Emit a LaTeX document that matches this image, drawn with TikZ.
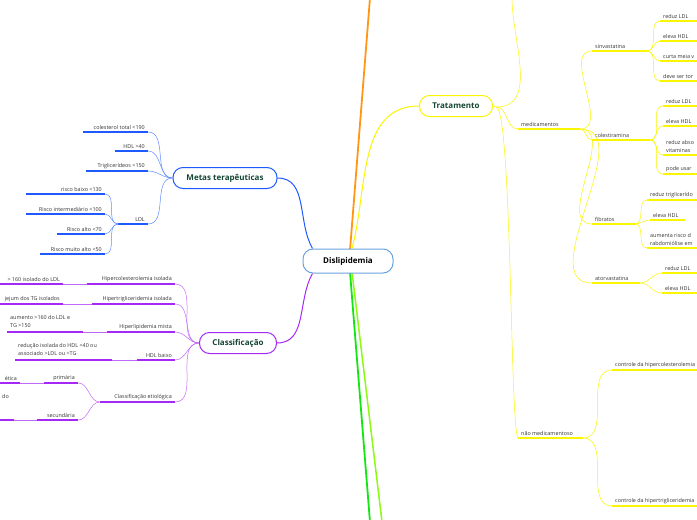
\documentclass[tikz,border=0pt]{standalone}
\usepackage{fontspec}
\setmainfont{Open Sans}
\definecolor{bl}{RGB}{30,90,255}
\definecolor{pu}{RGB}{165,40,245}
\definecolor{ye}{RGB}{250,245,0}
\definecolor{or}{RGB}{255,150,20}
\definecolor{gr}{RGB}{20,230,20}
\definecolor{lg}{RGB}{140,250,20}
\definecolor{dg}{RGB}{20,70,50}
\tikzset{txt/.style={font=\fontsize{5.4}{8.5}\selectfont,text=black!80,inner sep=1pt,align=left},
 main/.style={draw,rounded corners=10pt,line width=1pt,fill=white,font=\bfseries\fontsize{8}{9}\selectfont,text=dg,minimum height=21pt,inner xsep=8pt},
 ul/.style={line width=1.3pt},
 cn/.style={line width=0.5pt}}
\newcommand\RL[6]{\coordinate (#1-l) at (#2,#4); \coordinate (#1-r) at (#3,#4); \draw[ul,#5] (#1-l)--(#1-r); \node[txt,anchor=south west] (#1) at ([xshift=2pt,yshift=1.2pt]#1-l) {#6};}
\newcommand\LL[6]{\coordinate (#1-l) at (#2,#4); \coordinate (#1-r) at (#3,#4); \draw[ul,#5] (#1-l)--(#1-r); \node[txt,anchor=south east,align=right] (#1) at ([xshift=-2pt,yshift=1.2pt]#1-r) {#6};}
\begin{document}
\begin{tikzpicture}[x=1pt,y=-1pt]
\useasboundingbox (0,0) rectangle (697,520);
\clip (0,0) rectangle (697,520);
\node[main,draw=black!0,minimum width=90pt,minimum height=24pt] (root) at (348,261) {};
\coordinate (topo) at (370,-2);
\coordinate (g1) at (370,522);
\coordinate (g2) at (382,522);
\draw[or,line width=1.8pt] (350,250) -- (topo);
\draw[gr,line width=1.8pt] (350,272) -- (g1);
\draw[lg,line width=1.5pt] (352,272) -- (g2);
\node[main,draw=bl,minimum width=104pt] (metas) at (225,178) {Metas terapêuticas};
\node[main,draw=ye,minimum width=73pt] (trat) at (456,106) {Tratamento};
\node[main,draw=pu,minimum width=77pt] (clas) at (238,343) {Classificação};
\draw[bl,line width=1pt] (root.north west) ++(10,0) to[out=120,in=0] (metas.east);
\draw[ye,line width=1pt] (root.north) ++(4,0) to[out=75,in=180] (trat.west);
\draw[pu,line width=1pt] (root.south west) ++(10,0) to[out=240,in=0] (clas.east);
\node[main,draw=cyan!60!blue!60,text=black,minimum width=90pt,minimum height=24pt] at (348,261) {Dislipidemia};
% --- Metas
\LL{m1}{83}{148}{132}{bl}{colesterol total <190}
\LL{m2}{115}{148}{151}{bl}{HDL >40}
\LL{m3}{86}{148}{171}{bl}{Triglicerídeos <150}
\LL{m4}{118}{148}{224}{bl}{LDL}
\foreach \c in {m1,m2,m3,m4} \draw[cn,bl!70] (metas.west) to[out=180,in=0] (\c-r);
\LL{l1}{26}{105}{194}{bl}{risco baixo <130}
\LL{l2}{26}{105}{214}{bl}{Risco intermediário <100}
\LL{l3}{57}{105}{234}{bl}{Risco alto <70}
\LL{l4}{40}{105}{254}{bl}{Risco muito alto <50}
\foreach \c in {l1,l2,l3,l4} \draw[cn,bl!70] (m4-l) to[out=180,in=0] (\c-r);
% --- Classificacao
\LL{c1}{87}{175}{284}{pu}{Hipercolesterolemia isolada}
\LL{c2}{92}{175}{304}{pu}{Hipertrigliceridemia isolada}
\LL{c3}{107}{175}{332}{pu}{Hiperlipidemia mista}
\LL{c4}{137}{175}{360}{pu}{HDL baixo}
\LL{c5}{100}{175}{402}{pu}{Classificação etiológica}
\foreach \c in {c1,c2,c3,c4,c5} \draw[cn,pu!70] (clas.west) to[out=180,in=0] (\c-r);
\LL{d1}{-5}{63}{284}{pu}{> 160 isolado do LDL}
\LL{d2}{-5}{63}{304}{pu}{jejum dos TG isolados}
\coordinate (d3-l) at (7,332); \coordinate (d3-r) at (83,332); \draw[ul,pu] (d3-l)--(d3-r);
\node[txt,anchor=south west] (d3) at (9,329) {aumento >160 do LDL e\\TG >150};
\coordinate (d4-l) at (15,360); \coordinate (d4-r) at (112,360); \draw[ul,pu] (d4-l)--(d4-r);
\node[txt,anchor=south west] (d4) at (17,357) {redução isolada do HDL <40 ou\\associado >LDL ou >TG};
\draw[cn,pu!70] (c1-l) -- (d1-r); \draw[cn,pu!70] (c2-l) -- (d2-r);
\draw[cn,pu!70] (c3-l) -- (d3-r); \draw[cn,pu!70] (c4-l) -- (d4-r);
\LL{e1}{44}{78}{383}{pu}{primária}
\LL{e2}{37}{78}{420}{pu}{secundária}
\foreach \c in {e1,e2} \draw[cn,pu!70] (c5-l) to[out=180,in=0] (\c-r);
\LL{f1}{-5}{20}{383}{pu}{ética}
\draw[cn,pu!70] (e1-l) -- (f1-r);
\coordinate (f2-l) at (-5,420); \coordinate (f2-r) at (14,420); \draw[ul,pu] (f2-l)--(f2-r);
\node[txt,anchor=east] (f2) at (10,396) {do};
\draw[cn,pu!70] (e2-l) -- (f2-r);
% --- Tratamento
\coordinate (tr) at (496,107);
\coordinate (tup) at (512,-2);
\draw[cn,ye] (trat.east) -- (tr);
\draw[cn,ye] (tr) to[out=0,in=270] (tup);
\RL{t1}{518}{580}{129}{ye}{medicamentos}
\RL{t2}{518}{583}{438}{ye}{não medicamentoso}
\draw[cn,ye] (tr) to[out=0,in=180] (t1-l);
\draw[cn,ye] (tr) .. controls (512,107) and (510,430) .. (t2-l);
\RL{s1}{592}{647}{51}{ye}{sinvastatina}
\RL{s2}{592}{650}{140}{ye}{colestiramina}
\RL{s3}{592}{635}{224}{ye}{fibratos}
\RL{s4}{592}{640}{283}{ye}{atorvastatina}
\foreach \c in {s1,s2,s3,s4} \draw[cn,ye] (t1-r) to[out=0,in=180] (\c-l);
\RL{a1}{660}{700}{21}{ye}{reduz LDL}
\RL{a2}{660}{700}{41}{ye}{eleva HDL}
\RL{a3}{660}{700}{61}{ye}{curta meia v}
\RL{a4}{660}{700}{81}{ye}{deve ser tor}
\foreach \c in {a1,a2,a3,a4} \draw[cn,ye] (s1-r) to[out=0,in=180] (\c-l);
\RL{b1}{663}{700}{106}{ye}{reduz LDL}
\RL{b2}{663}{700}{126}{ye}{eleva HDL}
\RL{b3}{663}{700}{155}{ye}{reduz abso\\vitaminas}
\RL{b4}{663}{700}{174}{ye}{pode usar}
\foreach \c in {b1,b2,b3,b4} \draw[cn,ye] (s2-r) to[out=0,in=180] (\c-l);
\RL{h1}{647}{700}{200}{ye}{reduz triglicerído}
\RL{h2}{650}{685}{220}{ye}{eleva HDL}
\RL{h3}{647}{700}{248}{ye}{aumenta risco d\\ rabdomiólise em}
\foreach \c in {h1,h2,h3} \draw[cn,ye] (s3-r) to[out=0,in=180] (\c-l);
\RL{k1}{662}{700}{273}{ye}{reduz LDL}
\RL{k2}{662}{700}{293}{ye}{eleva HDL}
\foreach \c in {k1,k2} \draw[cn,ye] (s4-r) to[out=0,in=180] (\c-l);
\RL{n1}{612}{700}{370}{ye}{controle da hipercolesterolemia}
\RL{n2}{612}{700}{506}{ye}{controle da hipertrigliceridemia}
\foreach \c in {n1,n2} \draw[cn,ye] (t2-r) to[out=0,in=180] (\c-l);
\end{tikzpicture}
\end{document}
